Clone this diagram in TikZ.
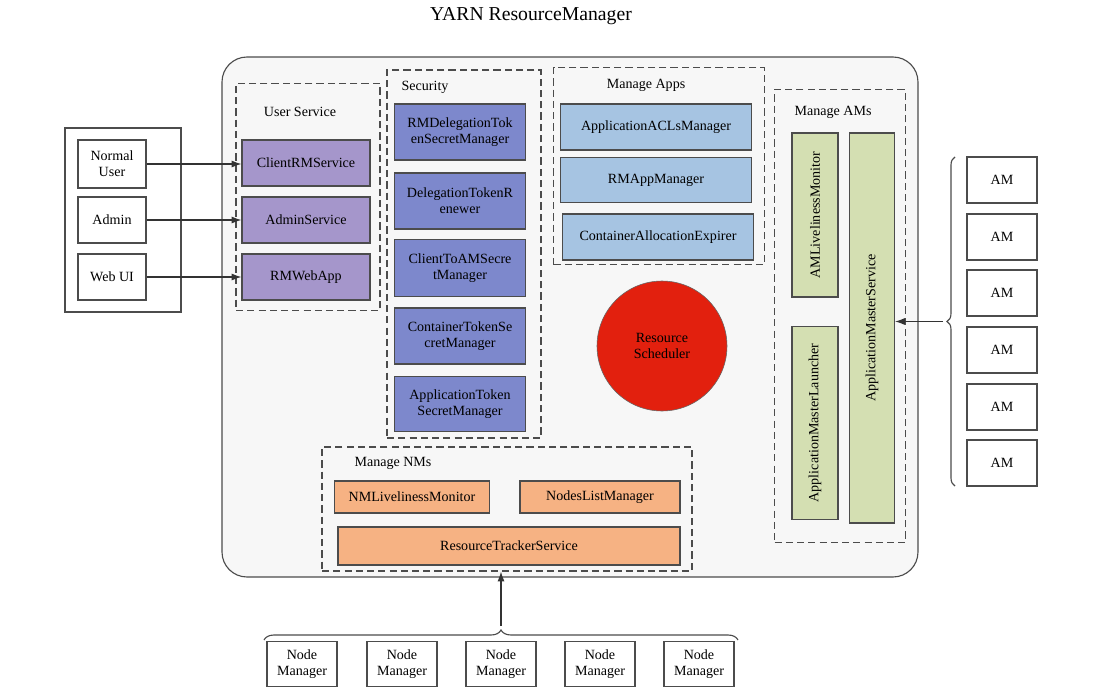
\documentclass[tikz,border=0pt]{standalone}
\usepackage{fontspec}
\setmainfont{Liberation Serif}
\usetikzlibrary{arrows, arrows.meta, shapes, positioning, calc, decorations.pathreplacing}
\def\pxu{0.025cm}
\definecolor{userfill}{HTML}{A596CB}
\definecolor{secfill}{HTML}{7D88CC}
\definecolor{appfill}{HTML}{A6C4E2}
\definecolor{amfill}{HTML}{D4DFB2}
\definecolor{nmfill}{HTML}{F6B283}
\definecolor{schedfill}{HTML}{E2200E}
\begin{document}
\begin{tikzpicture}[x=0.025cm, y=-0.025cm, >={Latex[length=7pt,width=5pt]}, inner sep=1pt,
  every node/.style = {font=\fontsize{10}{11.5}\selectfont, align=center},
  box/.style = {draw=black!70, thick, rectangle, inner sep=0pt},
  group/.style = {draw=black!70, thick, dash pattern=on 5pt off 3pt, rectangle, inner sep=0pt},
  user/.style = {box, fill=userfill},
  sec/.style = {box, fill=secfill},
  app/.style = {box, fill=appfill},
  am/.style = {box, fill=amfill},
  nm/.style = {box, fill=nmfill},
  ext/.style = {box, fill=white},
  sz/.style 2 args = {minimum width=#1*\pxu, minimum height=#2*\pxu},
  conn/.style = {->, thick, black!80}]
  \useasboundingbox (0,0) rectangle (1100,696);
  \node[font=\fontsize{14}{16}\selectfont] (title) at (531,16) {YARN ResourceManager};
  % resource manager
  \draw[thick, black!70, fill=black!3, rounded corners=25*\pxu] (222,57) rectangle (918,577);
  % clients
  \node[ext, sz={116}{184}] (clients) at (123,220) {};
  \node[ext, sz={68}{48}] (normal) at (112,164) {Normal\\User};
  \node[ext, sz={68}{46}] (admin) at (112,220) {Admin};
  \node[ext, sz={68}{46}] (webui) at (112,277) {Web UI};
  % user service
  \node[group, sz={144}{227}] (usergrp) at (308,197) {};
  \node (userlbl) at (300,112) {User Service};
  \node[user, sz={128}{46}] (clientrm) at (306,163) {ClientRMService};
  \node[user, sz={128}{46}] (adminsvc) at (306,220) {AdminService};
  \node[user, sz={128}{46}] (webapp) at (306,277) {RMWebApp};
  \draw[conn] (normal.east) -- (normal.east -| clientrm.west);
  \draw[conn] (admin) -- (adminsvc);
  \draw[conn] (webui) -- (webapp);
  % security
  \node[group, sz={154}{368}] (secgrp) at (464,254) {};
  \node (seclbl) at (425,87) {Security};
  \node[sec, sz={131}{56}] (rmdt) at (460,132) {RMDelegationTok\\enSecretManager};
  \node[sec, sz={131}{56}] (dtr) at (460,201) {DelegationTokenR\\enewer};
  \node[sec, sz={131}{57}] (c2am) at (460,268) {ClientToAMSecre\\tManager};
  \node[sec, sz={131}{56}] (cts) at (460,336) {ContainerTokenSe\\cretManager};
  \node[sec, sz={131}{55}] (ats) at (460,404) {ApplicationToken\\SecretManager};
  % manage apps
  \node[group, sz={211}{197}] (appgrp) at (659,166) {};
  \node (applbl) at (646,85) {Manage Apps};
  \node[app, sz={191}{46}] (acls) at (656,127) {ApplicationACLsManager};
  \node[app, sz={191}{45}] (rmapp) at (656,180) {RMAppManager};
  \node[app, sz={191}{46}] (cae) at (658,237) {ContainerAllocationExpirer};
  % scheduler
  \node[circle, draw=black!60, fill=schedfill, minimum size=130*\pxu] (sched) at (662,346) {Resource\\Scheduler};
  % manage AMs
  \node[group, sz={131}{453}] (amgrp) at (840,316) {};
  \node (amlbl) at (833,112) {Manage AMs};
  \node[am, rotate=90, sz={164}{46}] (amlm) at (815,215) {AMLivelinessMonitor};
  \node[am, rotate=90, sz={193}{46}] (aml) at (815,423) {ApplicationMasterLauncher};
  \node[am, rotate=90, sz={390}{45}] (ams) at (872,328) {ApplicationMasterService};
  % manage NMs
  \node[group, sz={370}{124}] (nmgrp) at (507,509) {};
  \node (nmlbl) at (393,463) {Manage NMs};
  \node[nm, sz={155}{32}] (nmlm) at (412,497) {NMLivelinessMonitor};
  \node[nm, sz={160}{32}] (nlm) at (600,497) {NodesListManager};
  \node[nm, sz={342}{38}] (rts) at (509,546) {ResourceTrackerService};
  % application masters
  \foreach \y [count=\i] in {180,237,293,350,407,463}
    \node[ext, sz={70}{46}] (am\i) at (1002,\y) {AM};
  \draw[thick, black!70, decorate, decoration={brace, amplitude=8*\pxu}] (955,486) -- (955,157);
  \coordinate (amtip) at (943,321.5);
  \draw[conn] (amtip) -- (amtip -| ams.south);
  % node managers
  \foreach \x [count=\i] in {302,402,501,600,699}
    \node[ext, sz={70}{45}] (nmgr\i) at (\x,664) {Node\\Manager};
  \draw[thick, black!70, decorate, decoration={brace, amplitude=10*\pxu}] (264,640) -- (738,640);
  \coordinate (nmtip) at (501,626);
  \draw[conn] (nmtip) -- (nmtip |- nmgrp.south);
\end{tikzpicture}
\end{document}
